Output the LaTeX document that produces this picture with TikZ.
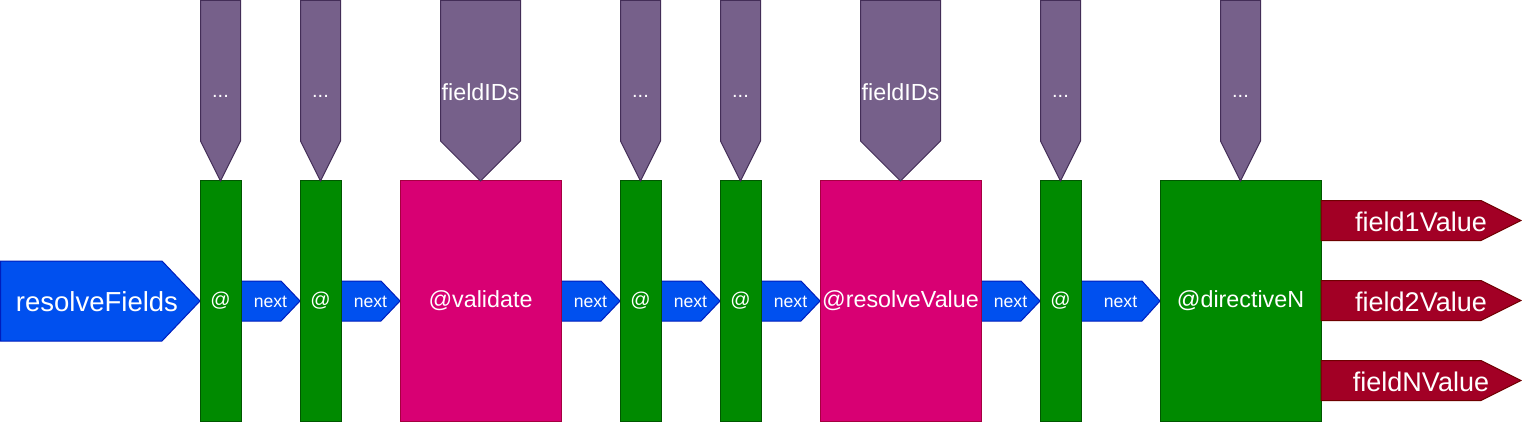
\documentclass[tikz,border=0pt]{standalone}
\usepackage{fontspec}
\setmainfont{Liberation Sans}
\usepackage{xcolor}
\usepackage{tikz}
\usetikzlibrary{positioning}

\definecolor{azulF}{HTML}{0050EF}
\definecolor{azulB}{HTML}{001DBC}
\definecolor{verdeF}{HTML}{008A00}
\definecolor{verdeB}{HTML}{005700}
\definecolor{magF}{HTML}{D80073}
\definecolor{magB}{HTML}{A50040}
\definecolor{moradoF}{HTML}{76608A}
\definecolor{moradoB}{HTML}{432D57}
\definecolor{rojoF}{HTML}{A20025}
\definecolor{rojoB}{HTML}{6F0000}

\begin{document}
\begin{tikzpicture}[x=1pt, y=-1pt, line width=1pt,
    azul/.style={fill=azulF, draw=azulB},
    verde/.style={fill=verdeF, draw=verdeB, inner sep=0pt, outer sep=0pt, minimum height=240pt},
    magenta/.style={fill=magF, draw=magB, inner sep=0pt, outer sep=0pt, minimum height=240pt, minimum width=161pt},
    morado/.style={fill=moradoF, draw=moradoB},
    rojo/.style={fill=rojoF, draw=rojoB},
    txt/.style={text=white, inner sep=0pt},
    grande/.style={txt, font=\fontsize{23.3}{28}\selectfont},
    chico/.style={txt, font=\fontsize{17.6}{21}\selectfont}]
        \useasboundingbox (0,0) rectangle (1522,422);

        % Entrada
        \draw[azul] (0.5,261) -- (162,261) -- (200,301) -- (162,341) -- (0.5,341) -- cycle;
        \node[txt, font=\fontsize{27.5}{33}\selectfont] (resolve) at (97,302) {resolveFields};

        % Flechas next
        \draw[azul] (241,281) -- (281,281) -- (300,301) -- (281,321) -- (241,321) -- cycle;
        \draw[azul] (341,281) -- (381,281) -- (400,301) -- (381,321) -- (341,321) -- cycle;
        \draw[azul] (561,281) -- (601,281) -- (620,301) -- (601,321) -- (561,321) -- cycle;
        \draw[azul] (661,281) -- (701,281) -- (720,301) -- (701,321) -- (661,321) -- cycle;
        \draw[azul] (761,281) -- (801,281) -- (820,301) -- (801,321) -- (761,321) -- cycle;
        \draw[azul] (981,281) -- (1021,281) -- (1040,301) -- (1021,321) -- (981,321) -- cycle;
        \draw[azul] (1081,281) -- (1142,281) -- (1160,301) -- (1142,321) -- (1081,321) -- cycle;
        \node[chico] (next1) at (270.5,302) {next};
        \node[chico] (next2) at (370.5,302) {next};
        \node[chico] (next3) at (590.5,302) {next};
        \node[chico] (next4) at (690.5,302) {next};
        \node[chico] (next5) at (790.5,302) {next};
        \node[chico] (next6) at (1010.5,302) {next};
        \node[chico] (next7) at (1120.5,302) {next};

        % Directivas
        \node[verde, minimum width=41pt] (dir1) at (220.5,301) {};
        \node[verde, minimum width=41pt] (dir2) at (320.5,301) {};
        \node[magenta] (validate) at (480.5,301) {};
        \node[verde, minimum width=41pt] (dir3) at (640.5,301) {};
        \node[verde, minimum width=41pt] (dir4) at (740.5,301) {};
        \node[magenta] (resolveValue) at (900.5,301) {};
        \node[verde, minimum width=41pt] (dir5) at (1060.5,301) {};
        \node[verde, minimum width=161pt] (dirN) at (1240.5,301) {};
        \node[txt, font=\fontsize{20}{24}\selectfont] at (dir1) {@};
        \node[txt, font=\fontsize{20}{24}\selectfont] at (dir2) {@};
        \node[grande] at (validate) {@validate};
        \node[txt, font=\fontsize{20}{24}\selectfont] at (dir3) {@};
        \node[txt, font=\fontsize{20}{24}\selectfont] at (dir4) {@};
        \node[grande] at (resolveValue) {@resolveValue};
        \node[txt, font=\fontsize{20}{24}\selectfont] at (dir5) {@};
        \node[grande] at (dirN) {@directiveN};

        % Argumentos
        \draw[morado] (200.5,0.5) -- (240.5,0.5) -- (240.5,141) -- (220.5,181) -- (200.5,141) -- cycle;
        \draw[morado] (300.5,0.5) -- (340.5,0.5) -- (340.5,141) -- (320.5,181) -- (300.5,141) -- cycle;
        \draw[morado] (440.5,0.5) -- (520.5,0.5) -- (520.5,141) -- (480.5,181) -- (440.5,141) -- cycle;
        \draw[morado] (620.5,0.5) -- (660.5,0.5) -- (660.5,141) -- (640.5,181) -- (620.5,141) -- cycle;
        \draw[morado] (720.5,0.5) -- (760.5,0.5) -- (760.5,141) -- (740.5,181) -- (720.5,141) -- cycle;
        \draw[morado] (860.5,0.5) -- (940.5,0.5) -- (940.5,141) -- (900.5,181) -- (860.5,141) -- cycle;
        \draw[morado] (1040.5,0.5) -- (1080.5,0.5) -- (1080.5,141) -- (1060.5,181) -- (1040.5,141) -- cycle;
        \draw[morado] (1220.5,0.5) -- (1260.5,0.5) -- (1260.5,141) -- (1240.5,181) -- (1220.5,141) -- cycle;
        \node[txt, font=\fontsize{20}{24}\selectfont] (arg1) at (220.5,96) {...};
        \node[txt, font=\fontsize{20}{24}\selectfont] (arg2) at (320.5,96) {...};
        \node[grande] (arg3) at (480.5,92) {fieldIDs};
        \node[txt, font=\fontsize{20}{24}\selectfont] (arg4) at (640.5,96) {...};
        \node[txt, font=\fontsize{20}{24}\selectfont] (arg5) at (740.5,96) {...};
        \node[grande] (arg6) at (900.5,92) {fieldIDs};
        \node[txt, font=\fontsize{20}{24}\selectfont] (arg7) at (1060.5,96) {...};
        \node[txt, font=\fontsize{20}{24}\selectfont] (arg8) at (1240.5,96) {...};

        % Salidas
        \draw[rojo] (1321,200.5) -- (1481,200.5) -- (1521,220.5) -- (1481,240.5) -- (1321,240.5) -- cycle;
        \draw[rojo] (1321,280.5) -- (1481,280.5) -- (1521,300.5) -- (1481,320.5) -- (1321,320.5) -- cycle;
        \draw[rojo] (1321,360.5) -- (1481,360.5) -- (1521,380.5) -- (1481,400.5) -- (1321,400.5) -- cycle;
        \node[txt, font=\fontsize{27}{32}\selectfont] (val1) at (1421,222) {field1Value};
        \node[txt, font=\fontsize{27}{32}\selectfont] (val2) at (1421,302) {field2Value};
        \node[txt, font=\fontsize{27}{32}\selectfont] (valN) at (1421,382) {fieldNValue};
    \end{tikzpicture}
\end{document}
